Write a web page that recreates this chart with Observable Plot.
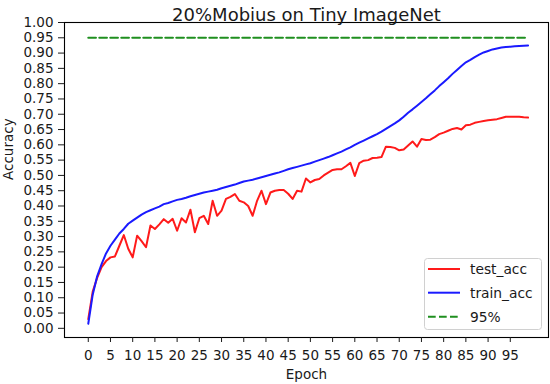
<!DOCTYPE html>
<html><head><meta charset="utf-8">
<script src="https://cdn.jsdelivr.net/npm/d3@7"></script>
<script src="https://cdn.jsdelivr.net/npm/@observablehq/plot@0.6"></script>
<style>
body{margin:0;background:#fff;}
#wrap{position:relative;width:550px;height:384px;}
#legend{position:absolute;left:424px;top:258px;}
</style></head><body><div id="wrap"></div>
<script>
const epochs = d3.range(0, 100);
const testAcc = [
 0.03,0.12,0.165,0.20,0.22,0.232,0.235,0.27,0.305,0.26,
 0.232,0.303,0.285,0.265,0.336,0.325,0.34,0.357,0.345,0.358,
 0.319,0.36,0.346,0.388,0.314,0.36,0.368,0.341,0.417,0.368,
 0.385,0.423,0.43,0.439,0.417,0.412,0.40,0.368,0.417,0.45,
 0.406,0.444,0.45,0.452,0.452,0.44,0.423,0.45,0.447,0.49,
 0.477,0.485,0.488,0.50,0.509,0.518,0.52,0.52,0.53,0.541,
 0.498,0.54,0.548,0.55,0.557,0.558,0.56,0.594,0.593,0.59,
 0.582,0.585,0.598,0.611,0.594,0.619,0.616,0.617,0.625,0.635,
 0.64,0.646,0.652,0.655,0.65,0.664,0.666,0.672,0.675,0.678,
 0.68,0.682,0.684,0.688,0.692,0.692,0.692,0.692,0.69,0.689
];
const trainAcc = [
 0.015,0.11,0.17,0.21,0.245,0.27,0.29,0.31,0.325,0.342,
 0.352,0.362,0.372,0.38,0.386,0.392,0.398,0.406,0.41,0.415,
 0.42,0.423,0.427,0.432,0.436,0.44,0.444,0.447,0.45,0.453,
 0.458,0.462,0.466,0.47,0.475,0.48,0.483,0.486,0.49,0.494,
 0.498,0.502,0.506,0.51,0.515,0.52,0.524,0.528,0.532,0.536,
 0.54,0.545,0.55,0.555,0.56,0.566,0.572,0.578,0.585,0.592,
 0.6,0.607,0.614,0.621,0.628,0.635,0.643,0.652,0.661,0.67,
 0.68,0.692,0.705,0.716,0.728,0.74,0.752,0.765,0.778,0.792,
 0.805,0.818,0.832,0.845,0.858,0.87,0.878,0.887,0.895,0.902,
 0.907,0.912,0.915,0.918,0.92,0.921,0.922,0.923,0.924,0.925
];
const target = 0.95;
const xTicks = d3.range(0, 100, 5);
const yTicks = d3.range(0, 21).map(i => i * 0.05);
const titleText = "20%Mobius on Tiny ImageNet";
const xLabel = "Epoch";
const yLabel = "Accuracy";
const seriesNames = ["test_acc", "train_acc", "95%"];
const seriesColors = ["#ff1a1a", "#1a1aff", "#1f8f1f"];

const rows = epochs.map((e, i) => ({epoch: e, test: testAcc[i], train: trainAcc[i]}));
const targetRows = [epochs[0], epochs[epochs.length - 1]].map(e => ({epoch: e, v: target}));

const plot = Plot.plot({
  width: 550, height: 384,
  marginTop: 22, marginRight: 2, marginBottom: 47, marginLeft: 64,
  style: {fontFamily: "DejaVu Sans", fontSize: "13.5px", color: "#1a1a1a", background: "white"},
  x: {domain: [-5.35, 103.6]},
  y: {domain: [-0.03, 1.0]},
  marks: [
    Plot.line(targetRows, {x: "epoch", y: "v", stroke: seriesColors[2], strokeWidth: 2, strokeDasharray: "7.7,3.3"}),
    Plot.line(rows, {x: "epoch", y: "test", stroke: seriesColors[0], strokeWidth: 2}),
    Plot.line(rows, {x: "epoch", y: "train", stroke: seriesColors[1], strokeWidth: 2}),
    Plot.frame({stroke: "black", strokeWidth: 1.1}),
    Plot.axisX({ticks: xTicks, tickSize: 5, tickPadding: 8, tickFormat: d => String(d), label: null}),
    Plot.axisY({ticks: yTicks, tickSize: 6, tickPadding: 5, tickFormat: d3.format(".2f"), label: null}),
    Plot.text([titleText], {frameAnchor: "top", dy: -14, fontSize: 18, text: d => d}),
    Plot.text([xLabel], {frameAnchor: "bottom", dy: 41, fontSize: 13.5, text: d => d}),
    Plot.text([yLabel], {frameAnchor: "left", dx: -56, rotate: -90, fontSize: 13.5, text: d => d})
  ]
});
const wrap = document.getElementById("wrap");
wrap.appendChild(plot);

// legend
const lg = d3.create("svg").attr("id", "legend").attr("width", 119).attr("height", 73)
  .style("font-family", "DejaVu Sans");
lg.append("rect").attr("x", 0.5).attr("y", 0.5).attr("width", 117).attr("height", 71).attr("rx", 3)
  .attr("fill", "white").attr("stroke", "#d0d0d0");
const rowY = [11, 34.7, 58.7];
seriesNames.forEach((n, i) => {
  lg.append("line").attr("x1", 4).attr("x2", 36).attr("y1", rowY[i]).attr("y2", rowY[i])
    .attr("stroke", seriesColors[i]).attr("stroke-width", 2)
    .attr("stroke-dasharray", i === 2 ? "7.7,3.3" : null);
  lg.append("text").attr("x", 46).attr("y", rowY[i]).attr("dy", "0.35em")
    .attr("font-size", 13.8).attr("fill", "#1a1a1a").text(n);
});
wrap.appendChild(lg.node());
</script></body></html>
